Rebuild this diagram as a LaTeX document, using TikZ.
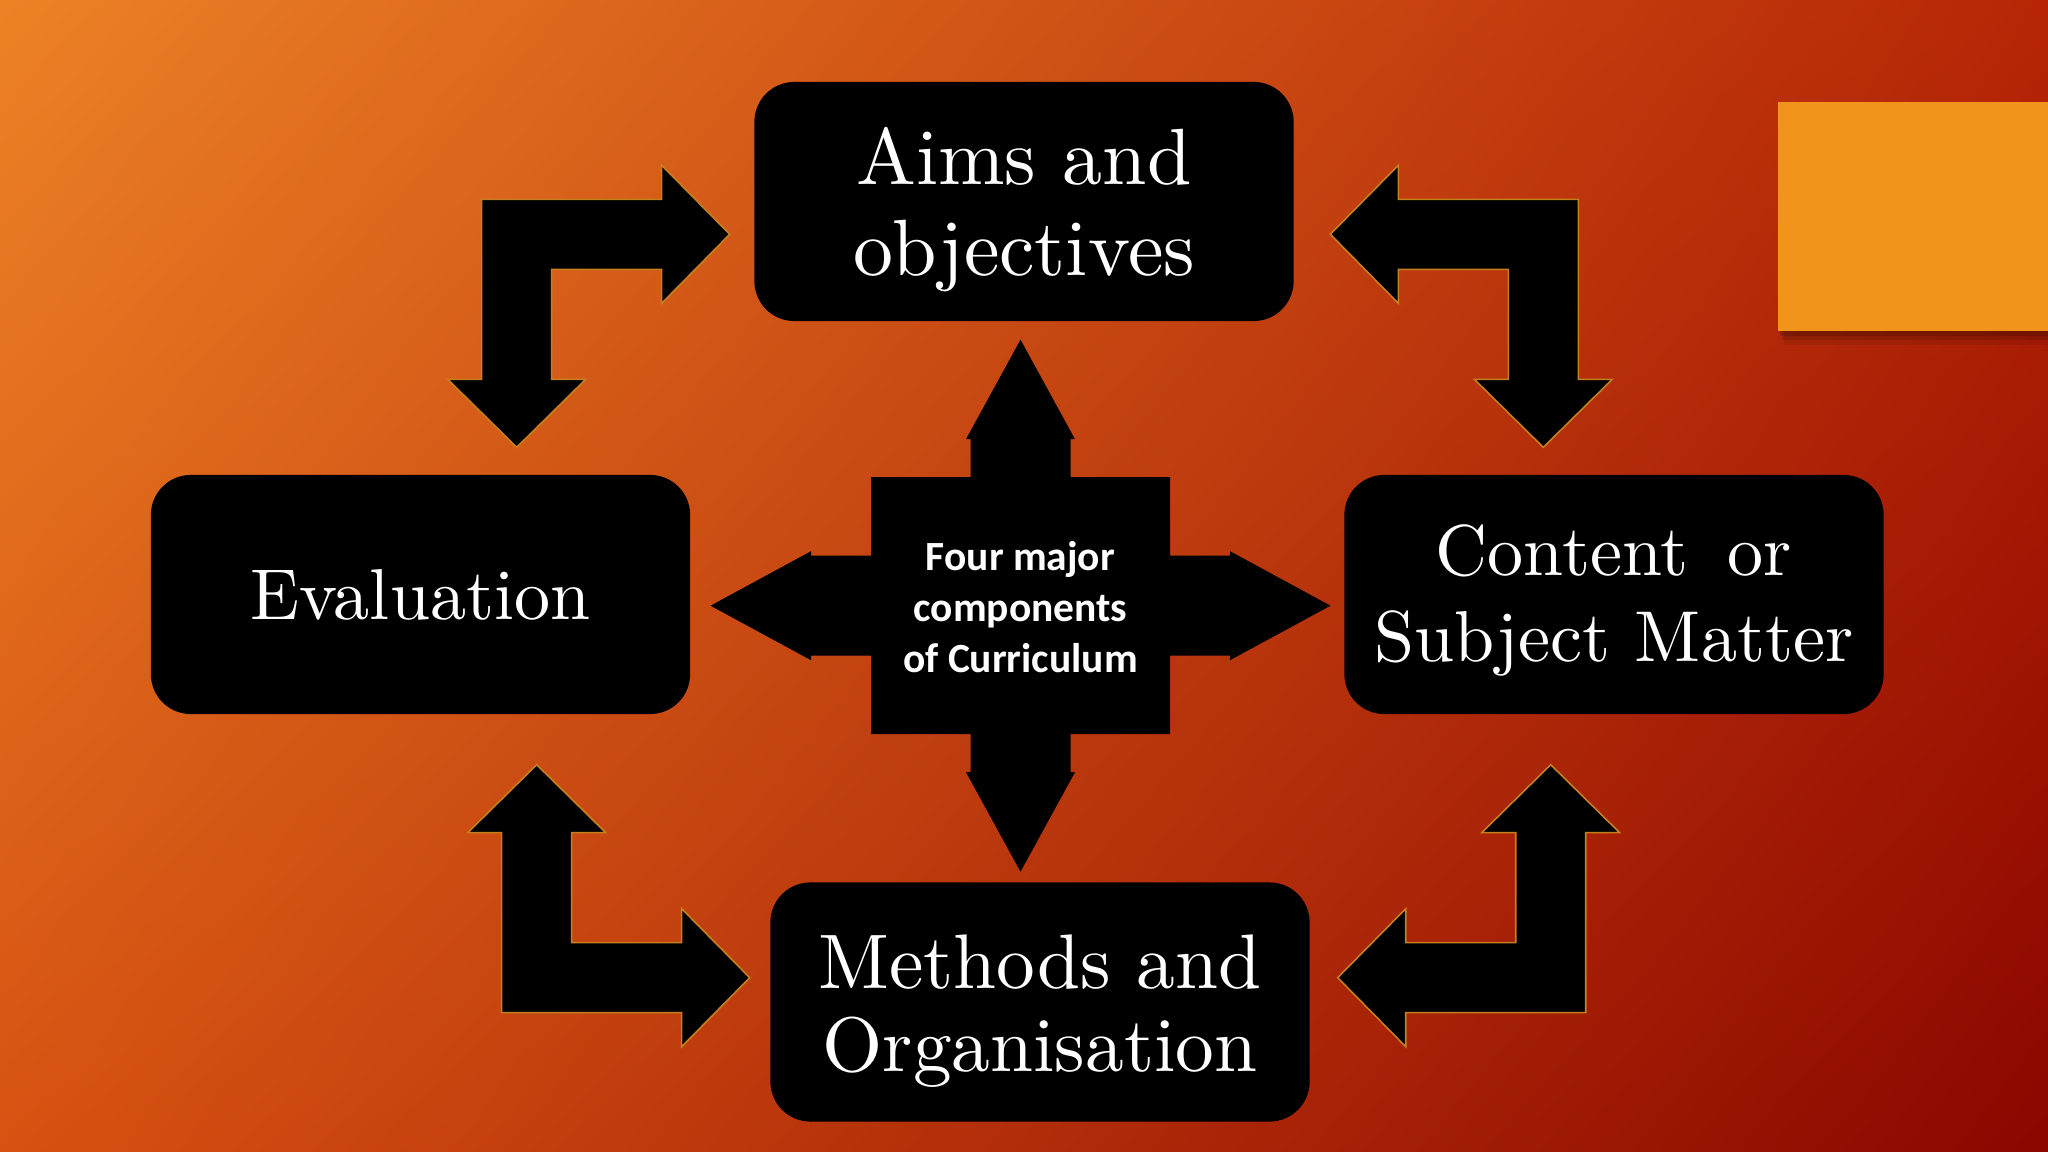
\documentclass[tikz,border=0pt]{standalone}
\usepackage{fontspec}
\setmainfont{lmroman10-regular.otf}
\newfontfamily\calibri{Carlito}
\usetikzlibrary{shadings}
\definecolor{bgtl}{RGB}{236,130,38}
\definecolor{bgtr}{RGB}{182,38,6}
\definecolor{bgbl}{RGB}{214,82,18}
\definecolor{bgbr}{RGB}{140,6,0}
\definecolor{tab}{RGB}{240,148,28}
\definecolor{rim}{RGB}{196,128,30}
\tikzset{
  part/.style={rectangle, rounded corners=0.4cm, fill=black, text=white,
    minimum width=5.39cm, minimum height=2.39cm, inner sep=0pt, align=center},
  label/.style={text=white, align=center},
  bendarrow/.style={fill=black, draw=rim, line width=0.45pt, line join=miter},
}
\begin{document}
\begin{tikzpicture}[x=0.01cm, y=-0.01cm]
  \useasboundingbox (0,0) rectangle (2048,1152);
  % background
  \shade[upper left=bgtl, upper right=bgtr, lower left=bgbl, lower right=bgbr]
    (0,0) rectangle (2048,1152);
  % orange tab with its shadow
  \fill[black, opacity=0.08] (1784,108) rectangle (2048,345);
  \fill[black, opacity=0.12] (1782,106) rectangle (2048,340);
  \fill[black, opacity=0.15] (1780,104) rectangle (2048,336);
  \fill[tab] (1778,102) rectangle (2048,331);

  % the four components
  \node[part] (aims) at (1024,201.5) {};
  \node[label, font=\fontsize{22.7}{26.1}\selectfont] (aimstext) at ([yshift=-0.08cm]aims.center) {Aims and\\objectives};
  \node[part, font=\fontsize{20.5}{24}\selectfont] (eval) at (420.5,594.5) {Evaluation};
  \node[part] (cont) at (1614,594.5) {};
  \node[label, font=\fontsize{20.5}{24.7}\selectfont] (conttext) at ([yshift=-0.06cm]cont.center) {Content\hspace{0.55em}or\\Subject Matter};
  \node[part] (meth) at (1040,1002) {};
  \node[label, font=\fontsize{22}{23.6}\selectfont] (methtext) at ([yshift=-0.09cm]meth.center) {Methods and\\Organisation};

  % bent arrows between the boxes
  \foreach \x/\y/\sx/\sy in {481.7/199.3/1/1, 1578.3/199.3/-1/1, 501.7/1012.7/1/-1, 1585.7/1012.7/-1/-1}
    \filldraw[bendarrow, shift={(\x,\y)}, xscale=\sx, yscale=\sy]
      (0,0) -- (180,0) -- (180,-34) -- (248,35) -- (180,104) -- (180,70) -- (70,70)
      -- (70,180) -- (104,180) -- (35,248) -- (-34,180) -- (0,180) -- cycle;

  % four-way arrow in the middle
  \begin{scope}[shift={(1020.5,605.7)}]
    \fill[black] (0,-266) -- (54.5,-166.5) -- (50,-166.5) -- (50,-128.5) -- (149.5,-128.5)
      -- (149.5,-50) -- (209.5,-50) -- (209.5,-54.5) -- (310,0) -- (209.5,54.5) -- (209.5,50)
      -- (149.5,50) -- (149.5,128.5) -- (50,128.5) -- (50,166.5) -- (54.5,166.5) -- (0,266)
      -- (-54.5,166.5) -- (-50,166.5) -- (-50,128.5) -- (-149.5,128.5) -- (-149.5,50)
      -- (-209.5,50) -- (-209.5,54.5) -- (-310,0) -- (-209.5,-54.5) -- (-209.5,-50)
      -- (-149.5,-50) -- (-149.5,-128.5) -- (-50,-128.5) -- (-50,-166.5) -- (-54.5,-166.5) -- cycle;
  \end{scope}
  \node[label, font=\calibri\bfseries\fontsize{11.8}{14.6}\selectfont] (core)
    at (1020.5,607) {Four major\\components\\of Curriculum};
\end{tikzpicture}
\end{document}
